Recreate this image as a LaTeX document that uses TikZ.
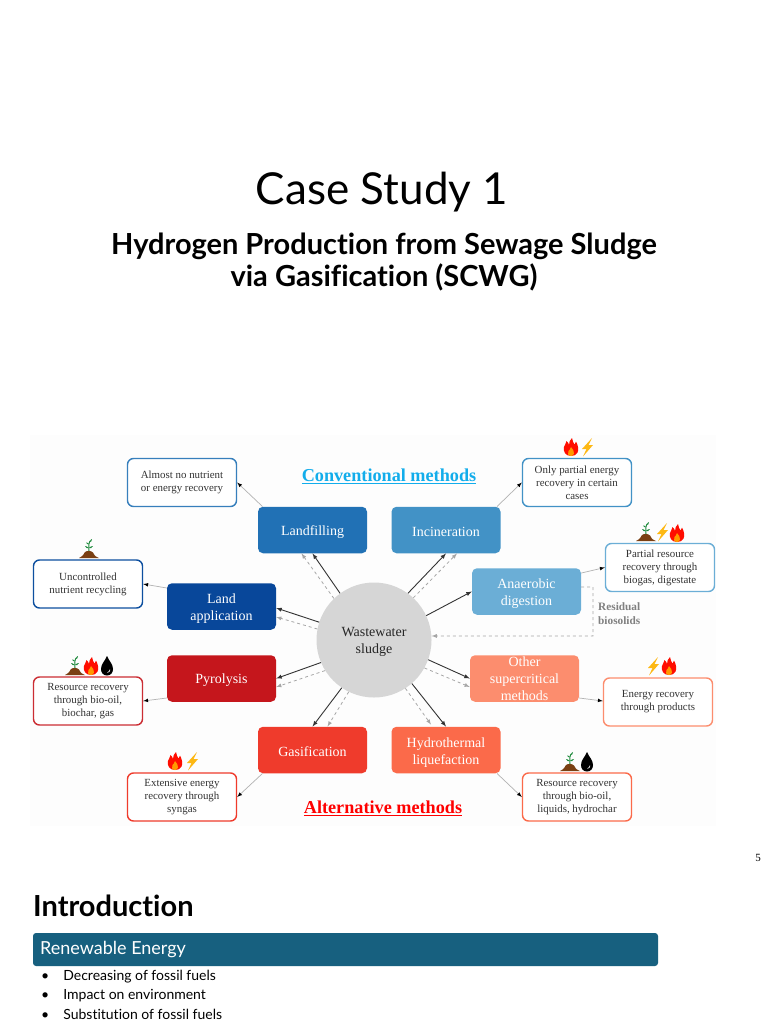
\documentclass[tikz,border=0pt]{standalone}
\usepackage{fontspec}
\setmainfont{Liberation Serif}
\newfontfamily\slidefont[Ligatures=CommonOff]{Lato}
\definecolor{c1}{HTML}{2171B5}
\definecolor{c2}{HTML}{4292C6}
\definecolor{c3}{HTML}{08479A}
\definecolor{c4}{HTML}{6BAED6}
\definecolor{c5}{HTML}{C5161C}
\definecolor{c6}{HTML}{FC8D6E}
\definecolor{c7}{HTML}{EF3B2C}
\definecolor{c8}{HTML}{FB6A4A}
\definecolor{banner}{HTML}{17607F}
\definecolor{soil}{HTML}{7A3F12}
\definecolor{leaf}{HTML}{1E8A3C}
\definecolor{boltc}{HTML}{FDB813}
\definecolor{skyc}{HTML}{12ADEB}
\tikzset{
  method/.style={fill=#1,rounded corners=5pt,minimum width=109pt,minimum height=46.5pt,inner sep=0pt,
    text=white,align=center,execute at begin node={\rule{0pt}{13.5pt}},font=\fontsize{14}{17}\selectfont},
  methodtwo/.style={method=#1,execute at begin node={\rule{0pt}{31pt}}},
  result/.style={draw=#1,fill=white,line width=1.4pt,rounded corners=6pt,minimum width=109pt,minimum height=48pt,
    inner sep=0pt,text=black!80,align=center,font=\fontsize{10.9}{13}\selectfont},
  flame/.pic={
    \fill[red!90!orange] (0,9) .. controls (-6,9) and (-8,4) .. (-7,0) .. controls (-6.5,-2) and (-5,-3) .. (-4.5,-6)
      .. controls (-3,-5) and (-2.5,-3.5) .. (-2,-2) .. controls (-2,-5) and (-1,-7) .. (1,-9)
      .. controls (1.5,-6) and (2.5,-4) .. (3.5,-2.5) .. controls (4,-3.5) and (4.5,-4.5) .. (5,-5.5)
      .. controls (7,-2) and (8,3) .. (6.5,5.5) .. controls (5.5,8) and (3,9) .. (0,9) -- cycle;
    \fill[orange!80!yellow] (0,9) .. controls (-3,9) and (-4,6) .. (-2.5,4) .. controls (-1.5,3) and (-0.5,2) .. (0,0)
      .. controls (1.5,2) and (3.5,4) .. (3,6.5) .. controls (2.5,8.5) and (1,9) .. (0,9) -- cycle;
  },
  boltmark/.pic={
    \fill[boltc] (5,-9) -- (-5,2) -- (-0.5,2) -- (-4,9.5) -- (6,-2) -- (1.5,-2) -- cycle;
  },
  sprout/.pic={
    \fill[soil] (-10,9) .. controls (-6,7) and (-5,5) .. (-4,3) .. controls (-2,1.5) and (2,1.5) .. (4,3.5)
      .. controls (5,6) and (6,7.5) .. (10,9) -- cycle;
    \draw[leaf,line width=1pt] (0,2) .. controls (0,-2) and (-1,-4) .. (1,-8);
    \fill[leaf] (0,-1) .. controls (-2,-3) and (-4,-3) .. (-4,-3) .. controls (-3,-1) and (-2,0) .. (0,-1) -- cycle;
    \fill[leaf] (0,-1.5) .. controls (2,-3) and (3,-2.5) .. (4,-3) .. controls (3,-0.5) and (1,0) .. (0,-1.5) -- cycle;
    \fill[leaf] (0,-5) .. controls (-1,-7) and (-3,-6.5) .. (-3,-6.5) .. controls (-2.5,-5) and (-1,-4) .. (0,-5) -- cycle;
    \fill[leaf] (0.5,-7) .. controls (1,-9) and (2,-9.5) .. (3,-10) .. controls (3,-8) and (2,-6.5) .. (0.5,-7) -- cycle;
  },
  oildrop/.pic={
    \fill[black] (0,-10) .. controls (-2,-5) and (-6,-2) .. (-6,3) .. controls (-6,7) and (-3.5,9.5) .. (0,9.5)
      .. controls (3.5,9.5) and (6,7) .. (6,3) .. controls (6,-2) and (2,-5) .. (0,-10) -- cycle;
    \draw[white,line width=.6pt] (0.5,6.5) .. controls (2,6) and (3,5) .. (3,3.5);
  }
}
\begin{document}
\begin{tikzpicture}[x=1pt,y=-1pt,>=latex]
\useasboundingbox (0,0) rectangle (768,1024);
\fill[white] (0,0) rectangle (768,1024);
\fill[black!.6] (30,435) rectangle (716,826);

\node (t1) at (382,192) {\slidefont\fontsize{44}{50}\selectfont Case Study 1};
\node (t2) at (384,246) {\slidefont\fontsize{29}{34}\selectfont\bfseries Hydrogen Production from Sewage Sludge};
\node (t3) at (384,277) {\slidefont\fontsize{29}{34}\selectfont\bfseries via Gasification (SCWG)};

\node (c1) at (389,476) {\fontsize{18.2}{20}\selectfont\bfseries\color{skyc}\underline{Conventional methods}};
\node (c2) at (383,808) {\fontsize{18.2}{20}\selectfont\bfseries\color{red}\underline{Alternative methods}};

\node[circle,fill=black!16,minimum size=115pt,inner sep=0pt,align=center,execute at begin node={\rule{0pt}{30.5pt}},font=\fontsize{14}{17}\selectfont,text=black!85] (s) at (374,640) {Wastewater\\sludge};

\node[method=c1] (m1) at (312.5,530) {Landfilling};
\node[method=c2] (m2) at (446,530) {Incineration};
\node[methodtwo=c3] (m3) at (221.5,606.5) {Land\\application};
\node[methodtwo=c4] (m4) at (526.5,591.5) {Anaerobic\\digestion};
\node[method=c5] (m5) at (221.5,678.5) {Pyrolysis};
\node[method=c6] (m6) at (524.5,678.5) {Other\\supercritical\\methods};
\node[method=c7] (m7) at (312.5,750) {Gasification};
\node[methodtwo=c8] (m8) at (446,750) {Hydrothermal\\liquefaction};

\node[result=c1!90!white] (r1) at (182,482.5) {Almost no nutrient\\or energy recovery};
\node[result=c2] (r2) at (577,482.5) {Only partial energy\\recovery in certain\\cases};
\node[result=c3!80!c1] (r3) at (88,584) {Uncontrolled\\nutrient recycling};
\node[result=c4] (r4) at (660,567.5) {Partial resource\\recovery through\\biogas, digestate};
\node[result=c5!90!white] (r5) at (88,701) {Resource recovery\\through bio-oil,\\biochar, gas};
\node[result=c6] (r6) at (658,702) {Energy recovery\\through products};
\node[result=c7] (r7) at (182,797) {Extensive energy\\recovery through\\syngas};
\node[result=c8] (r8) at (577,797) {Resource recovery\\through bio-oil,\\liquids, hydrochar};

\pic at (571,447) {flame};
\pic at (587,447) {boltmark};
\pic at (646,532) {sprout};
\pic at (662,532) {boltmark};
\pic at (677,533) {flame};
\pic at (89,549) {sprout};
\pic at (75,666) {sprout};
\pic at (91,666) {flame};
\pic at (107,666) {oildrop};
\pic at (653,666) {boltmark};
\pic at (669,666) {flame};
\pic at (175,761) {flame};
\pic at (192,761) {boltmark};
\pic at (570,762) {sprout};
\pic at (587,762) {oildrop};

% sludge to methods
\begin{scope}[->,black!80,line width=.9pt]
\draw (s.126)--(m1.south);
\draw (s.54)--(m2.south);
\draw (s.162)--([yshift=-1.5pt]m3.east);
\draw (s.25)--(m4.west);
\draw (s.-157)--(m5.east);
\draw (s.-20)--(m6.west);
\draw (s.-124)--(m7.north);
\draw (s.-49)--(m8.north);
\end{scope}

\begin{scope}[->,black!35,dashed,line width=.8pt]
\draw (s.134)--([xshift=-11pt]m1.south);
\draw (s.47)--([xshift=11pt]m2.south);
\draw (s.169)--([yshift=-10.5pt]m3.east);
\draw (s.-148)--([yshift=-8.5pt]m5.east);
\draw (s.-29)--([yshift=-8.5pt]m6.west);
\draw (s.-116)--([xshift=15pt]m7.north);
\draw (s.-57)--([xshift=-15pt,yshift=2pt]m8.north);
\end{scope}

\coordinate (cr) at (593,636);
\draw[->,black!35,dashed,line width=.8pt] ([yshift=4.5pt]m4.east)-|(cr)--(s.4);
\node[anchor=west,inner sep=0pt,align=left,text=black!50,font=\fontsize{11.3}{14}\selectfont\bfseries] (rb) at (598,614) {Residual\\biosolids};

% methods to results
\begin{scope}[->,black!30,line width=.7pt,>={latex[black]}]
\draw ([xshift=-50pt]m1.north)--(r1.east);
\draw ([xshift=51pt]m2.north)--(r2.west);
\draw ([yshift=18.5pt]m3.west)--(r3.east);
\draw ([yshift=-5pt]m4.north east)--(r4.west);
\draw ([yshift=-19.5pt]m5.west)--(r5.east);
\draw ([yshift=-19.5pt]m6.east)--([yshift=1pt]r6.west);
\draw ([xshift=-50pt]m7.south)--(r7.east);
\draw ([xshift=51pt]m8.south)--(r8.west);
\end{scope}

\node[font=\fontsize{11}{12}\selectfont] (pg) at (758,858) {5};

\node[anchor=west,inner sep=0pt,font=\slidefont\fontsize{29}{32}\selectfont\bfseries] (h1) at (33,906) {Introduction};
\node[fill=banner,rounded corners=3pt,minimum width=625pt,minimum height=33pt,inner sep=0pt] (b1) at (345.5,949.5) {};
\node[anchor=west,inner sep=0pt,text=white,font=\slidefont\fontsize{18}{20}\selectfont] (b2) at (40,950) {Renewable Energy};
\node[anchor=west,inner sep=0pt,font=\slidefont\fontsize{14}{16}\selectfont] (l1) at (41,976.5) {\textbullet\hspace{14pt}Decreasing of fossil fuels};
\node[anchor=west,inner sep=0pt,font=\slidefont\fontsize{14}{16}\selectfont] (l2) at (41,995.5) {\textbullet\hspace{14pt}Impact on environment};
\node[anchor=west,inner sep=0pt,font=\slidefont\fontsize{14}{16}\selectfont] (l3) at (41,1014.5) {\textbullet\hspace{14pt}Substitution of fossil fuels};
\end{tikzpicture}
\end{document}
